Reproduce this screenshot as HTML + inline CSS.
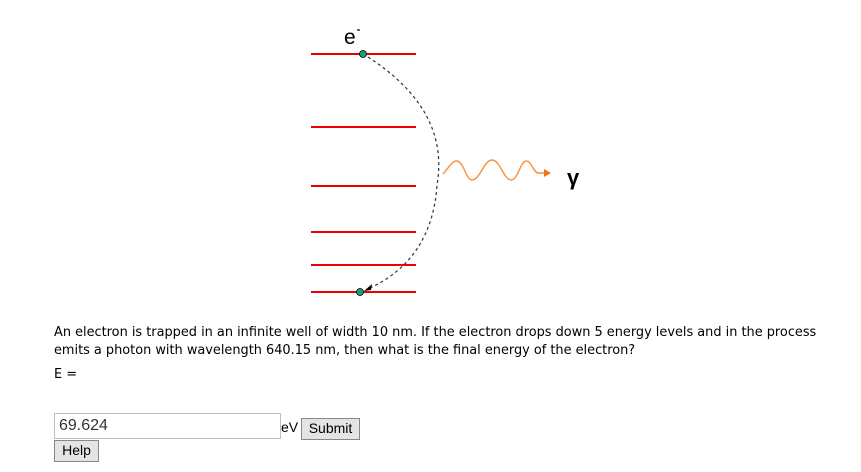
<!DOCTYPE html>
<html><head><style>
body{margin:0;width:861px;height:472px;background:#fff;position:relative;overflow:hidden;font-family:"DejaVu Sans",Verdana,sans-serif;}
.t{position:absolute;left:54px;font-size:12.9px;color:#000;white-space:nowrap;}
.box{position:absolute;box-sizing:border-box;}
.btn{position:absolute;box-sizing:border-box;background:#e4e4e4;border:1px solid #888;font-family:"Liberation Sans",Arial,sans-serif;font-size:14px;text-align:center;color:#000;}
</style></head><body>
<svg width="861" height="320" style="position:absolute;left:0;top:0">
<g stroke="#e00" stroke-width="2">
<line x1="311" y1="54" x2="416" y2="54"/>
<line x1="311" y1="127" x2="416" y2="127"/>
<line x1="311" y1="186" x2="416" y2="186"/>
<line x1="311" y1="232" x2="416" y2="232"/>
<line x1="311" y1="265" x2="416" y2="265"/>
<line x1="311" y1="292" x2="416" y2="292"/>
</g>
<path d="M368,57 Q450,110 437,185 Q432,260 368,289" fill="none" stroke="#333" stroke-width="1.2" stroke-dasharray="3,3"/>
<polygon points="364,291 372,284 371,290" fill="#000"/>
<path d="M443,174 C450,166 453,160 457,161 C464,162 466,180 472,180 C480,180 484,160 492,160 C500,160 504,180 511,180 C518,180 520,162 526,161 C531,160 533,172 538,173 L546,173" fill="none" stroke="#f7913d" stroke-width="1.4"/>
<polygon points="544,169 551,173 544,177" fill="#f7701d"/>
<circle cx="363" cy="54" r="3.5" fill="#1a9f7a" stroke="#000" stroke-width="0.8"/>
<circle cx="360" cy="292" r="3.5" fill="#1a9f7a" stroke="#000" stroke-width="0.8"/>
<text x="344" y="44" font-family="Liberation Sans,Arial,sans-serif" font-size="21">e</text>
<line x1="357" y1="30" x2="360" y2="30" stroke="#000" stroke-width="1.2"/>
<text x="567" y="185" font-family="Liberation Sans,Arial,sans-serif" font-size="22" font-weight="bold">γ</text>
</svg>
<div class="t" style="top:325px">An electron is trapped in an infinite well of width 10 nm. If the electron drops down 5 energy levels and in the process</div>
<div class="t" style="top:343px">emits a photon with wavelength 640.15 nm, then what is the final energy of the electron?</div>
<div class="t" style="top:367px">E =</div>
<div class="box" style="left:54px;top:413px;width:227px;height:26px;border:1px solid #c8b8c8;font-family:'Liberation Sans',Arial,sans-serif;font-size:16px;padding:3px 0 0 4px;color:#333;">69.624</div>
<div style="position:absolute;left:281px;top:419px;font-family:'Liberation Sans',Arial,sans-serif;font-size:14px;">eV</div>
<div class="btn" style="left:301px;top:418px;width:59px;height:22px;line-height:19px;">Submit</div>
<div class="btn" style="left:54px;top:440px;width:45px;height:22px;line-height:19px;">Help</div>
</body></html>
